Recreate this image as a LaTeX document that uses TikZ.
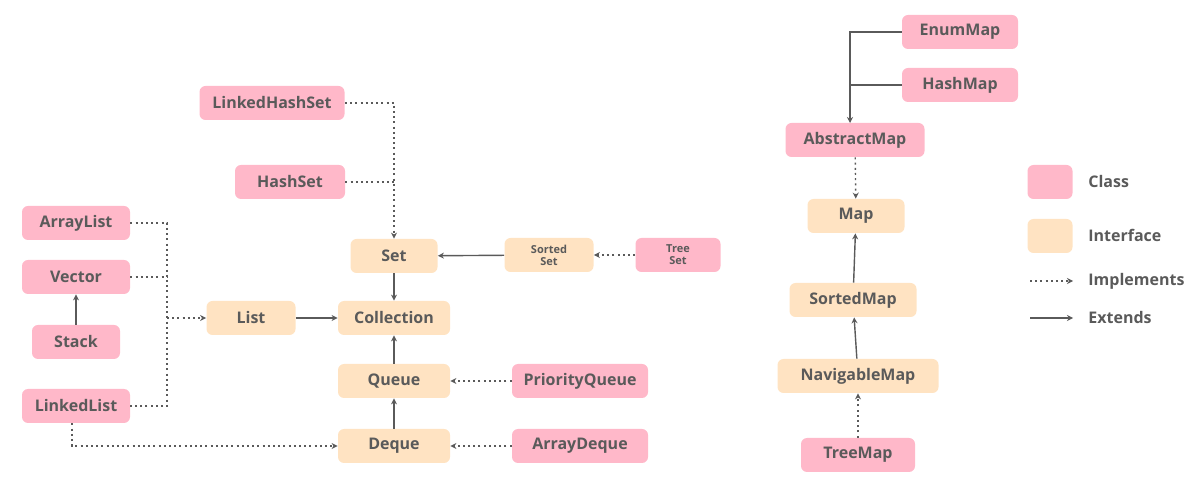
\documentclass[tikz,border=0pt]{standalone}
\usepackage{fontspec}
\setmainfont{Open Sans}
\usetikzlibrary{arrows.meta}
\definecolor{cls}{HTML}{FFB8C9}
\definecolor{itf}{HTML}{FFE3C2}
\definecolor{ink}{HTML}{5A5A5A}
\begin{document}
\begin{tikzpicture}[x=0.5pt,y=-0.5pt,
  box/.style={rounded corners=3pt,minimum height=17pt,inner sep=0pt,font=\fontsize{8}{9}\selectfont\bfseries,text=ink},
  C/.style={box,fill=cls},
  I/.style={box,fill=itf},
  ext/.style={draw=ink,line width=0.7pt,-{Stealth[length=3pt,width=3pt]}},
  imp/.style={draw=ink,line width=0.7pt,dash pattern=on 1pt off 1.6pt,-{Stealth[length=3pt,width=3pt]}},
  impl/.style={draw=ink,line width=0.7pt,dash pattern=on 1pt off 1.6pt},
  extl/.style={draw=ink,line width=0.7pt}]
\useasboundingbox (0,0) rectangle (1200,480);
\node[C,minimum width=72.5pt] (lhs) at (272,103) {LinkedHashSet};
\node[C,minimum width=55pt] (hs) at (290,182) {HashSet};
\node[C,minimum width=54pt] (al) at (76,223) {ArrayList};
\node[C,minimum width=54pt] (vec) at (76,277) {Vector};
\node[C,minimum width=44pt] (stk) at (76,342) {Stack};
\node[C,minimum width=54pt] (ll) at (76,406) {LinkedList};
\node[I,minimum width=44.5pt] (list) at (251,318) {List};
\node[I,minimum width=43.5pt] (set) at (394,256) {Set};
\node[I,minimum width=56pt] (col) at (394,318) {Collection};
\node[I,minimum width=56pt] (que) at (394,381) {Queue};
\node[I,minimum width=56pt] (deq) at (394,446) {Deque};
\node[I,minimum width=44.5pt,align=center,font=\fontsize{5.5}{6}\selectfont\bfseries] (ss) at (549,255) {Sorted\\Set};
\node[C,minimum width=42.5pt,align=center,font=\fontsize{5.5}{6}\selectfont\bfseries] (ts) at (678,255) {Tree\\Set};
\node[C,minimum width=68pt] (pq) at (580,381) {PriorityQueue};
\node[C,minimum width=68pt] (ad) at (580,446) {ArrayDeque};
\node[C,minimum width=58pt] (em) at (960,32) {EnumMap};
\node[C,minimum width=58pt] (hm) at (960,85) {HashMap};
\node[C,minimum width=69.5pt] (am) at (855,140) {AbstractMap};
\node[I,minimum width=48.5pt] (map) at (856,216) {Map};
\node[I,minimum width=63.5pt] (sm) at (853,300) {SortedMap};
\node[I,minimum width=80.5pt] (nm) at (858,376) {NavigableMap};
\node[C,minimum width=57pt] (tm) at (858,455) {TreeMap};
% legend
\node[C,minimum width=22.5pt] (lc) at (1050,182) {};
\node[I,minimum width=22.5pt] (li) at (1050,236) {};
\node[box,anchor=west] (tc) at (1088,182) {Class};
\node[box,anchor=west] (ti) at (1088,235) {Interface};
\node[box,anchor=west] (tim) at (1088,281) {Implements};
\node[box,anchor=west] (tex) at (1088,318) {Extends};
\coordinate (a1) at (1030,281); \coordinate (a2) at (1073,281);
\coordinate (b1) at (1030,318); \coordinate (b2) at (1073,318);
\draw[imp] (a1) -- (a2);
\draw[ext] (b1) -- (b2);
% set side
\draw[imp] (lhs.east) -| (set.north);
\draw[impl] (hs.east) -- (394,182);
\coordinate (j) at (167,318);
\draw[impl] (al.east) -| (167,406) -- (ll.east);
\draw[impl] (vec.east) -- (167,277);
\draw[imp] (j) -- (list.west);
\draw[ext] (stk) -- (vec);
\draw[ext] (list) -- (col);
\draw[ext] (set) -- (col);
\draw[ext] (que) -- (col);
\draw[ext] (deq) -- (que);
\draw[ext] (ss) -- (set);
\draw[imp] (ts) -- (ss);
\draw[imp] (pq) -- (que);
\draw[imp] (ad) -- (deq);
\draw[imp] (ll.south -| 72,0) |- (deq.west);
% map side
\draw[ext] (em.west) -| (850,123);
\draw[extl] (hm.west) -- (850,85);
\draw[imp] (am) -- (map);
\draw[ext] (sm) -- (map);
\draw[ext] (nm) -- (sm);
\draw[imp] (tm) -- (nm);
\end{tikzpicture}
\end{document}
